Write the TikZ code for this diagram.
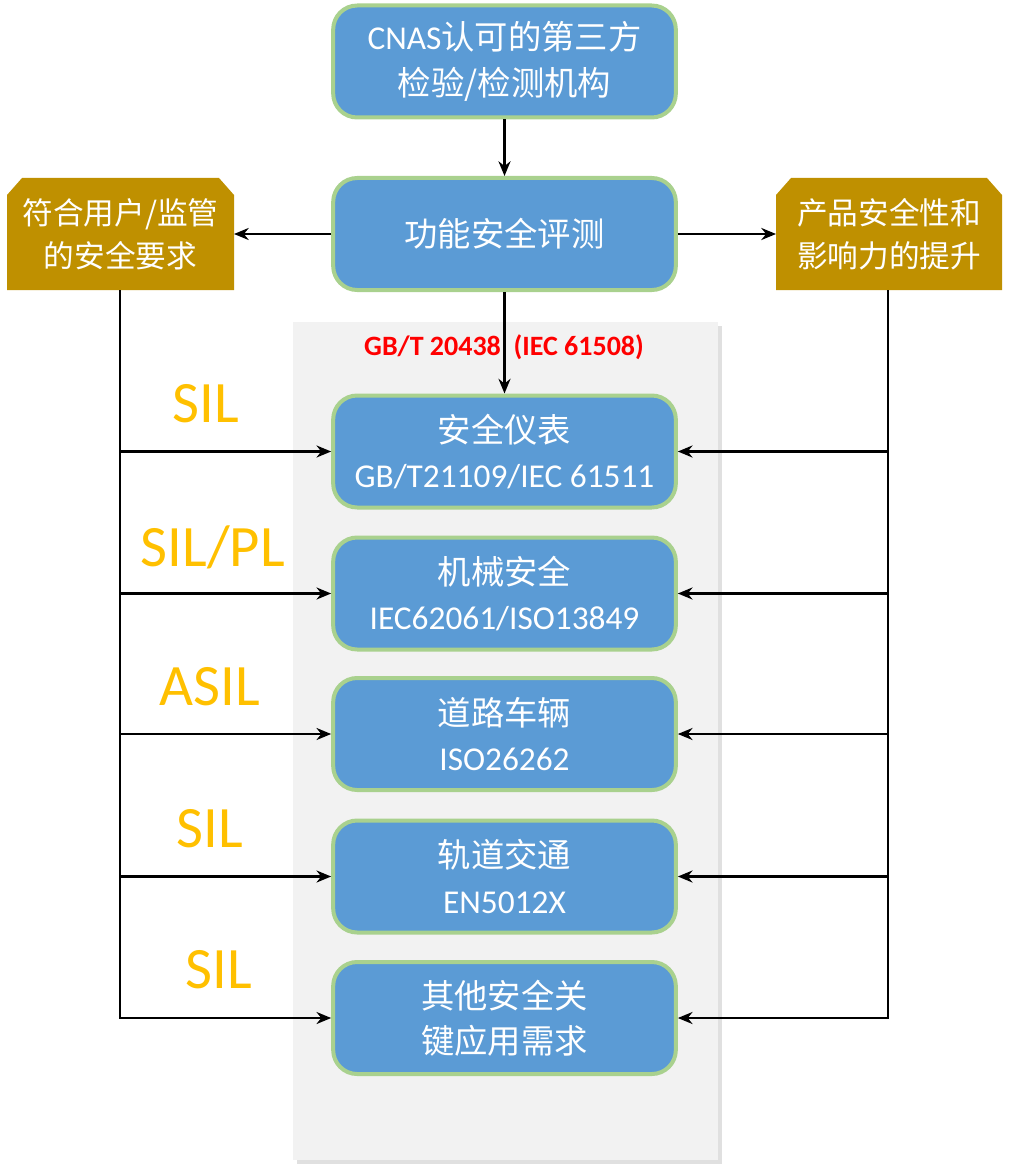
\documentclass[tikz,border=0pt]{standalone}
\usepackage{fontspec}
\setmainfont{Noto Sans CJK SC}
\newfontfamily\lat{Carlito}
\usetikzlibrary{arrows.meta}
\definecolor{bblue}{HTML}{5B9BD5}
\definecolor{bgreen}{HTML}{A9D18E}
\definecolor{gold}{HTML}{BF9000}
\definecolor{orng}{HTML}{FFC000}
\definecolor{bg}{HTML}{F2F2F2}
\begin{document}
\begin{tikzpicture}[x=0.75pt,y=-0.75pt,
  box/.style={draw=bgreen,line width=3pt,fill=bblue,rounded corners=18pt,minimum width=257pt,minimum height=84pt,text=white,align=center,font=\fontsize{25}{34}\selectfont,inner sep=0pt},
  side/.style={fill=gold,draw=none},
  stext/.style={text=white,align=center,font=\fontsize{23}{32}\selectfont},
  lab/.style={text=orng,font=\lat\fontsize{44}{44}\selectfont},
  con/.style={line width=2.2pt,-{Stealth[length=11pt,width=9pt]}},
  ln/.style={line width=2.2pt}]
\path[use as bounding box] (0,0) rectangle (1010,1170);
\fill[black!12] (297,326) rectangle (722,1164);
\fill[bg] (293,322) rectangle (718,1160);
\node[box] (a) at (504.5,61.5) {{\lat CNAS}认可的第三方\\检验/检测机构};
\node[box] (b) at (504.5,234) {功能安全评测};
\node[box] (c1) at (504.5,451.5) {安全仪表\\{\lat GB/T21109/IEC 61511}};
\node[box] (c2) at (504.5,593.5) {机械安全\\{\lat IEC62061/ISO13849}};
\node[box] (c3) at (504.5,734) {道路车辆\\{\lat ISO26262}};
\node[box] (c4) at (504.5,876.5) {轨道交通\\{\lat EN5012X}};
\node[box] (c5) at (504.5,1018) {其他安全关\\键应用需求};
\fill[side] (7,290) -- (7,195) -- (22,178) -- (219,178) -- (234,195) -- (234,290) -- cycle;
\fill[side] (776,290) -- (776,195) -- (791,178) -- (987,178) -- (1002,195) -- (1002,290) -- cycle;
\node[stext] (L) at (120.5,234) {符合用户/监管\\的安全要求};
\node[stext] (R) at (889,234) {产品安全性和\\影响力的提升};
\coordinate (Le) at (234,234);
\coordinate (Re) at (776,234);
\coordinate (Lt) at (120,290);
\coordinate (Rt) at (888,290);
\node[text=red,font=\lat\bfseries\fontsize{21}{21}\selectfont] (red) at (504,347) {GB/T 20438\ \ (IEC 61508)};
\draw[con] (a) -- (b);
\draw[con] (b) -- (c1);
\draw[con] (b) -- (Le);
\draw[con] (b) -- (Re);
\draw[ln] (Lt) -- (120,1019);
\draw[ln] (Rt) -- (888,1019);
\foreach \n in {c1,c2,c3,c4,c5}{
  \draw[con] (120,0 |- \n.west) -- (\n.west);
  \draw[con] (888,0 |- \n.east) -- (\n.east);
}
\node[lab] (s1) at (206,404) {SIL};
\node[lab] (s2) at (213,547) {SIL/PL};
\node[lab] (s3) at (210,687) {ASIL};
\node[lab] (s4) at (210,829) {SIL};
\node[lab] (s5) at (219,970) {SIL};
\end{tikzpicture}
\end{document}
